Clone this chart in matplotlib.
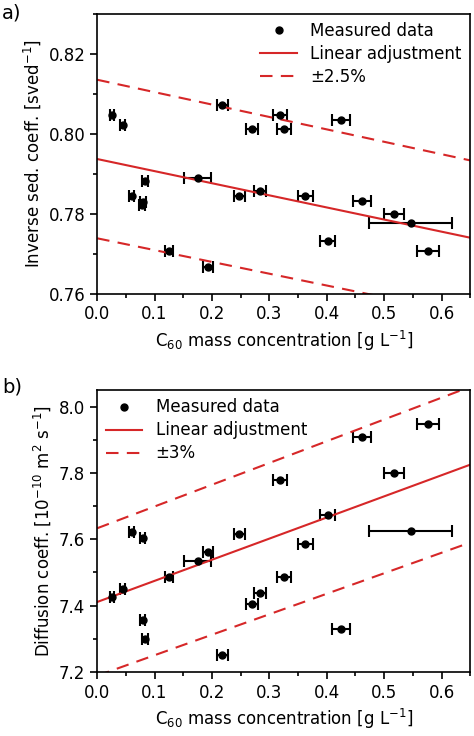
import matplotlib
matplotlib.use("Agg")
import matplotlib.pyplot as plt
import numpy as np
from matplotlib.ticker import MultipleLocator
from matplotlib.lines import Line2D

xa = [0.0255,0.0446,0.060,0.083,0.078,0.080,0.125,0.175,0.193,0.218,0.248,0.270,0.284,0.318,0.326,0.363,0.402,0.425,0.461,0.517,0.546,0.577]
ya = [0.8047,0.8023,0.7845,0.7883,0.7822,0.7830,0.7708,0.7890,0.7666,0.8073,0.7845,0.8012,0.7858,0.8048,0.8012,0.7845,0.7731,0.8035,0.7833,0.7799,0.7777,0.7708]
xerr_a = [0.004,0.004,0.005,0.005,0.005,0.005,0.007,0.023,0.009,0.010,0.010,0.010,0.011,0.012,0.012,0.013,0.013,0.015,0.016,0.017,0.073,0.019]

xb = [0.0255,0.0446,0.060,0.079,0.079,0.083,0.125,0.175,0.193,0.218,0.248,0.270,0.284,0.318,0.326,0.363,0.402,0.425,0.461,0.517,0.546,0.577]
yb = [7.426,7.451,7.623,7.603,7.358,7.298,7.487,7.534,7.562,7.25,7.616,7.406,7.438,7.780,7.485,7.586,7.672,7.330,7.909,7.800,7.625,7.949]
xerr_b = xerr_a

fit_a = (0.7937, -0.0303)
fit_b = (7.411, 0.637)
red = '#d62728'
plt.rcParams['font.size'] = 12
fig = plt.figure(figsize=(4.74, 7.36), dpi=100)
ax1 = fig.add_axes([0.205, 0.601, 0.787, 0.380])
ax2 = fig.add_axes([0.205, 0.087, 0.787, 0.383])

def draw(ax, x, y, xe, fit, pct, plabel, ylim, ymaj, ylabel, loc):
    ax.errorbar(x, y, xerr=xe, fmt='o', color='black', ms=5, capsize=4, elinewidth=1.5, capthick=1.5)
    xx = np.array([0, 0.65])
    yy = fit[0] + fit[1]*xx
    l1, = ax.plot(xx, yy, color=red, lw=1.5)
    l2, = ax.plot(xx, yy*(1+pct), color=red, lw=1.5, ls=(0,(6,4)))
    ax.plot(xx, yy*(1-pct), color=red, lw=1.5, ls=(0,(6,4)))
    ax.set_xlim(0, 0.65)
    ax.set_ylim(*ylim)
    ax.xaxis.set_major_locator(MultipleLocator(0.1))
    ax.xaxis.set_minor_locator(MultipleLocator(0.05))
    ax.yaxis.set_major_locator(MultipleLocator(ymaj))
    ax.yaxis.set_minor_locator(MultipleLocator(ymaj/2))
    ax.tick_params(which='both', width=1.2)
    ax.tick_params(which='major', length=5)
    ax.tick_params(which='minor', length=3)
    for s in ax.spines.values():
        s.set_linewidth(1.2)
    ax.set_xlabel('C$_{60}$ mass concentration [g L$^{-1}$]')
    ax.set_ylabel(ylabel)
    dot = Line2D([], [], marker='o', color='black', ls='none', ms=5)
    ax.legend([dot, l1, l2], ['Measured data', 'Linear adjustment', plabel], loc=loc,
              frameon=False, handlelength=2.2, borderaxespad=0.1, labelspacing=0.3)

draw(ax1, xa, ya, xerr_a, fit_a, 0.025, '±2.5%', (0.76, 0.83), 0.02,
     'Inverse sed. coeff. [sved$^{-1}$]', 'upper right')
draw(ax2, xb, yb, xerr_b, fit_b, 0.03, '±3%', (7.2, 8.05), 0.2,
     'Diffusion coeff. [10$^{-10}$ m$^2$ s$^{-1}$]', 'upper left')
fig.text(0.005, 0.995, 'a)', fontsize=14, va='top')
fig.text(0.005, 0.487, 'b)', fontsize=14, va='top')
fig.savefig('out.png', dpi=100)
